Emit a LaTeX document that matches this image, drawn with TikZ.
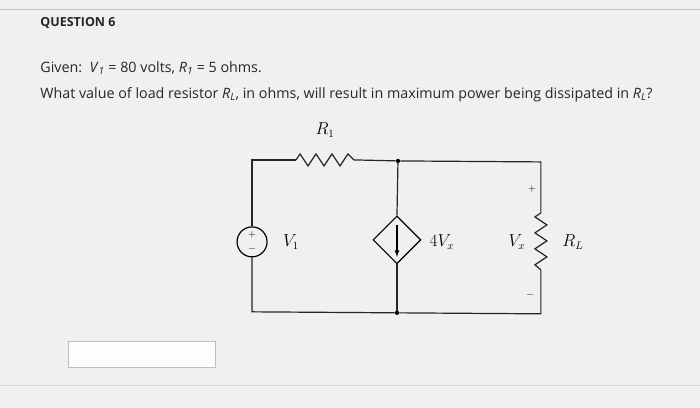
\documentclass[tikz,border=0pt]{standalone}
\usepackage{fontspec}
\usetikzlibrary{shapes.geometric}
\newfontfamily\qf{Open Sans}
\newcommand{\qv}[2]{\textit{#1}\textsubscript{\textit{#2}}}
\begin{document}
\begin{tikzpicture}[x=1pt,y=-1pt,
  wire/.style={line width=1.2pt,black!85},
  lbl/.style={font=\fontsize{16}{18}\selectfont},
  qt/.style={font=\qf\fontsize{14.3}{16}\selectfont,anchor=west,inner sep=0,text=black!85},
  dot/.style={circle,fill=black,inner sep=1.5pt}]
\fill[black!6] (0,0) rectangle (700,408);
\draw[black!25] (0,9) -- (700,9);
\draw[black!15] (0,385) -- (700,385);
\node[qt,font=\qf\bfseries\fontsize{12.5}{14}\selectfont] (q) at (40,23) {QUESTION 6};
\node[qt] (g) at (40,68) {Given:\ \ \qv{V}{1} = 80 volts, \qv{R}{1} = 5 ohms.};
\node[qt] (w) at (40,95) {What value of load resistor \qv{R}{L}, in ohms, will result in maximum power being dissipated in \qv{R}{L}?};
\draw[black!25,fill=white!70!black!3] (68,341) rectangle (215,367);
% circuit
\coordinate (tl) at (252,160);
\coordinate (r1a) at (296,160);
\coordinate (r1b) at (354,160);
\coordinate (tr) at (541,162);
\coordinate (bl) at (252,312);
\coordinate (br) at (541,314);
\node[dot] (jt) at (398,161) {};
\node[dot] (jb) at (397,313) {};
\node[circle,draw,line width=1.2pt,minimum size=30pt,inner sep=0] (v1) at (252,242) {};
\node[font=\normalsize] at (252,235) {$+$};
\node[font=\normalsize] at (252,249) {$-$};
\node[diamond,draw,line width=1.2pt,minimum size=48pt,inner sep=0] (cs) at (397,240) {};
\draw[line width=1.2pt,-latex] (397,225) -- (397,257);
\coordinate (rla) at (541,213);
\coordinate (rlb) at (541,270);
\draw[wire] (v1.north) -- (tl) -- (r1a);
\draw[wire] (r1a) -- ++(4,-6) -- ++(8,12) -- ++(8,-12) -- ++(8,12) -- ++(8,-12) -- ++(8,12) -- ++(8,-12) -- (r1b);
\draw[wire] (r1b) -- (jt) -- (tr) -- (rla);
\draw[wire] (rla) -- ++(-6,4) -- ++(12,8) -- ++(-12,8) -- ++(12,8) -- ++(-12,8) -- ++(12,8) -- ++(-12,8) -- (rlb);
\draw[wire] (rlb) -- (br) -- (jb) -- (bl) -- (v1.south);
\draw[wire] (jt) -- (cs.north);
\draw[wire] (cs.south) -- (jb);
\node[lbl] (l1) at (325,130) {$R_1$};
\node[lbl] (l2) at (291,242) {$V_1$};
\node[lbl] (l3) at (442,242) {$4V_x$};
\node[lbl] (l4) at (517,242) {$V_x$};
\node[lbl] (l5) at (573,242) {$R_L$};
\node[font=\normalsize] (pl) at (532,189) {$+$};
\node[font=\normalsize] (mi) at (530,295) {$-$};
\end{tikzpicture}
\end{document}
